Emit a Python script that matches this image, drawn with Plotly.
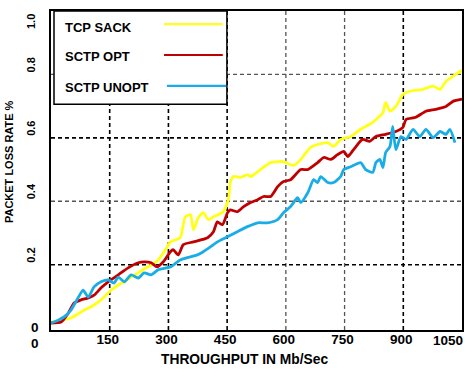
import plotly.graph_objects as go

# ---- data ----
sack_x = [0,26,51,77,95,110,128,141,154,172,187,205,223,238,256,274,297,305,330,343,356,364,376,389,402,415,440,453,458,466,484,502,510,535,561,579,594,620,638,663,681,707,722,740,766,791,822,848,855,866,881,899,917,950,976,994,1009,1035,1050]
sack_y = [0.019,0.025,0.032,0.051,0.063,0.073,0.089,0.104,0.120,0.136,0.146,0.161,0.174,0.187,0.199,0.215,0.256,0.272,0.285,0.351,0.358,0.310,0.348,0.364,0.342,0.351,0.367,0.405,0.459,0.478,0.475,0.484,0.478,0.500,0.522,0.525,0.525,0.513,0.532,0.570,0.579,0.585,0.573,0.595,0.604,0.627,0.649,0.680,0.712,0.684,0.699,0.737,0.747,0.753,0.763,0.753,0.778,0.801,0.813]

opt_x = [0,26,44,59,77,95,110,128,146,172,197,223,238,256,271,287,305,312,325,338,364,400,415,425,438,451,458,476,492,510,528,543,561,579,594,612,638,656,681,697,715,732,748,758,773,796,814,830,855,881,899,907,932,958,983,1009,1027,1050]
opt_y = [0.016,0.019,0.047,0.079,0.089,0.095,0.104,0.127,0.146,0.168,0.190,0.206,0.209,0.206,0.193,0.209,0.241,0.247,0.231,0.263,0.272,0.285,0.304,0.335,0.326,0.364,0.373,0.367,0.383,0.396,0.405,0.415,0.415,0.446,0.462,0.468,0.500,0.500,0.522,0.538,0.532,0.547,0.557,0.541,0.563,0.595,0.589,0.604,0.611,0.620,0.633,0.658,0.665,0.684,0.690,0.699,0.715,0.722]

unopt_x = [0,18,33,51,69,82,95,110,128,146,161,172,187,205,223,238,256,274,305,330,348,374,389,407,425,451,476,502,528,553,579,594,612,630,638,656,671,681,689,707,722,740,748,766,791,804,822,830,840,848,855,866,873,881,894,907,925,942,958,976,994,1009,1019,1032]
unopt_y = [0.016,0.025,0.035,0.057,0.095,0.120,0.098,0.130,0.146,0.152,0.142,0.161,0.146,0.168,0.158,0.174,0.168,0.184,0.193,0.215,0.222,0.231,0.241,0.256,0.272,0.288,0.304,0.320,0.332,0.332,0.342,0.364,0.383,0.411,0.396,0.427,0.468,0.459,0.478,0.459,0.459,0.478,0.500,0.509,0.522,0.500,0.491,0.522,0.532,0.506,0.554,0.573,0.636,0.563,0.604,0.595,0.627,0.604,0.627,0.601,0.620,0.611,0.627,0.585]

series_names = ["TCP SACK", "SCTP OPT", "SCTP UNOPT"]
series_colors = ["#FFFF1A", "#C00000", "#19ACE6"]

x_ticks = [150, 300, 450, 600, 750, 900, 1050]
x_tick_text = ["150", "300", "450", "600", "750", "900", "1050"]
y_ticks = [0.2, 0.4, 0.6, 0.8, 1.0]
y_tick_text = ["0.2", "0.4", "0.6", "0.8", "1.0"]

x_grid_dark = [150, 300, 450, 900]
x_grid_light = [600, 750]
y_grid_dark = [0.2, 0.6]
y_grid_light = [0.4, 0.8]

FONT = "Liberation Sans, Arial, sans-serif"

fig = go.Figure()
for xs, ys, nm, col in zip([sack_x, opt_x, unopt_x], [sack_y, opt_y, unopt_y], series_names, series_colors):
    fig.add_trace(go.Scatter(x=xs, y=ys, name=nm, mode="lines",
                             line=dict(color=col, width=2.8, shape="spline", smoothing=0.6),
                             showlegend=False))

shapes = []
for gx in x_grid_dark:
    shapes.append(dict(type="line", xref="x", yref="paper", x0=gx, x1=gx, y0=0, y1=1,
                       line=dict(color="#000000", width=1.6, dash="4px,3px"), layer="below"))
for gx in x_grid_light:
    shapes.append(dict(type="line", xref="x", yref="paper", x0=gx, x1=gx, y0=0, y1=1,
                       line=dict(color="#555555", width=1.3, dash="4px,3px"), layer="below"))
for gy in y_grid_dark:
    shapes.append(dict(type="line", xref="paper", yref="y", x0=0, x1=1, y0=gy, y1=gy,
                       line=dict(color="#000000", width=1.6, dash="4px,3px"), layer="below"))
for gy in y_grid_light:
    shapes.append(dict(type="line", xref="paper", yref="y", x0=0, x1=1, y0=gy, y1=gy,
                       line=dict(color="#555555", width=1.3, dash="4px,3px"), layer="below"))

# custom legend box (text left, line sample right)
shapes.append(dict(type="rect", xref="paper", yref="paper", x0=0.0073, x1=0.428, y0=0.708, y1=1.0,
                   fillcolor="white", line=dict(color="black", width=1.5), layer="above"))
leg_line_y = [0.959, 0.862, 0.765]
leg_line_x0 = [0.275, 0.275, 0.282]
leg_line_x1 = [0.418, 0.418, 0.426]
leg_text_y = [0.947, 0.856, 0.759]
annotations = []
for i, (nm, col) in enumerate(zip(series_names, series_colors)):
    shapes.append(dict(type="line", xref="paper", yref="paper", x0=leg_line_x0[i], x1=leg_line_x1[i],
                       y0=leg_line_y[i], y1=leg_line_y[i], line=dict(color=col, width=2.2), layer="above"))
    annotations.append(dict(text="<b>%s</b>" % nm, xref="paper", yref="paper", x=0.030, y=leg_text_y[i],
                            xanchor="left", yanchor="middle", showarrow=False,
                            font=dict(family=FONT, size=13, color="black")))

# last tick labels are pulled inside the frame in the reference
annotations.append(dict(text="<b>%s</b>" % x_tick_text[-1], xref="x", yref="paper", x=x_ticks[-1], y=0,
                        xanchor="right", yanchor="middle", xshift=3, yshift=-10, showarrow=False,
                        font=dict(family=FONT, size=13.5, color="black")))
annotations.append(dict(text="<b>%s</b>" % y_tick_text[-1], xref="paper", yref="y", x=0, y=y_ticks[-1],
                        xanchor="center", yanchor="top", xshift=-20.5, yshift=-1, textangle=-90,
                        showarrow=False, font=dict(family=FONT, size=11, color="black")))

# axis titles and the two "0" labels
annotations.append(dict(text="<b>THROUGHPUT IN Mb/Sec</b>", xref="paper", yref="paper", x=0.471, y=0,
                        yshift=-29, xanchor="center", yanchor="middle", showarrow=False,
                        font=dict(family=FONT, size=13.8, color="black")))
annotations.append(dict(text="<b>PACKET LOSS RATE %</b>", xref="paper", yref="paper", x=0, y=0.528,
                        xshift=-42.5, xanchor="center", yanchor="middle", showarrow=False, textangle=-90,
                        font=dict(family=FONT, size=11, color="black")))
annotations.append(dict(text="<b>0</b>", xref="paper", yref="y", x=0, y=0, xshift=-16, yshift=1,
                        xanchor="center", yanchor="middle", showarrow=False,
                        font=dict(family=FONT, size=13.5, color="black")))
annotations.append(dict(text="<b>0</b>", xref="paper", yref="paper", x=0, y=0, xshift=-16, yshift=-13,
                        xanchor="center", yanchor="middle", showarrow=False,
                        font=dict(family=FONT, size=13.5, color="black")))

fig.update_layout(
    width=474, height=371,
    margin=dict(l=51, r=12, t=11, b=41),
    paper_bgcolor="white", plot_bgcolor="white",
    shapes=shapes, annotations=annotations,
    showlegend=False,
)
fig.update_xaxes(range=[0, 1050], tickvals=x_ticks[:-1], ticktext=x_tick_text[:-1],
                 showgrid=False, zeroline=False, showline=True, mirror=True, automargin=False,
                 linecolor="black", linewidth=2, ticks="", ticklabelstandoff=-4, ticklabelshift=-2,
                 tickfont=dict(family=FONT, size=13.5, color="black", weight="bold"))
fig.update_yaxes(range=[-0.006, 1.0], tickvals=y_ticks[:-1], ticktext=y_tick_text[:-1], tickangle=-90,
                 showgrid=False, zeroline=False, showline=True, mirror=True, automargin=False,
                 linecolor="black", linewidth=2, ticks="", ticklabelstandoff=10, ticklabelshift=-8,
                 tickfont=dict(family=FONT, size=11, color="black", weight="bold"))

fig.write_html("out.html", config={"displayModeBar": False},
               post_script="document.body.style.margin='0';")
